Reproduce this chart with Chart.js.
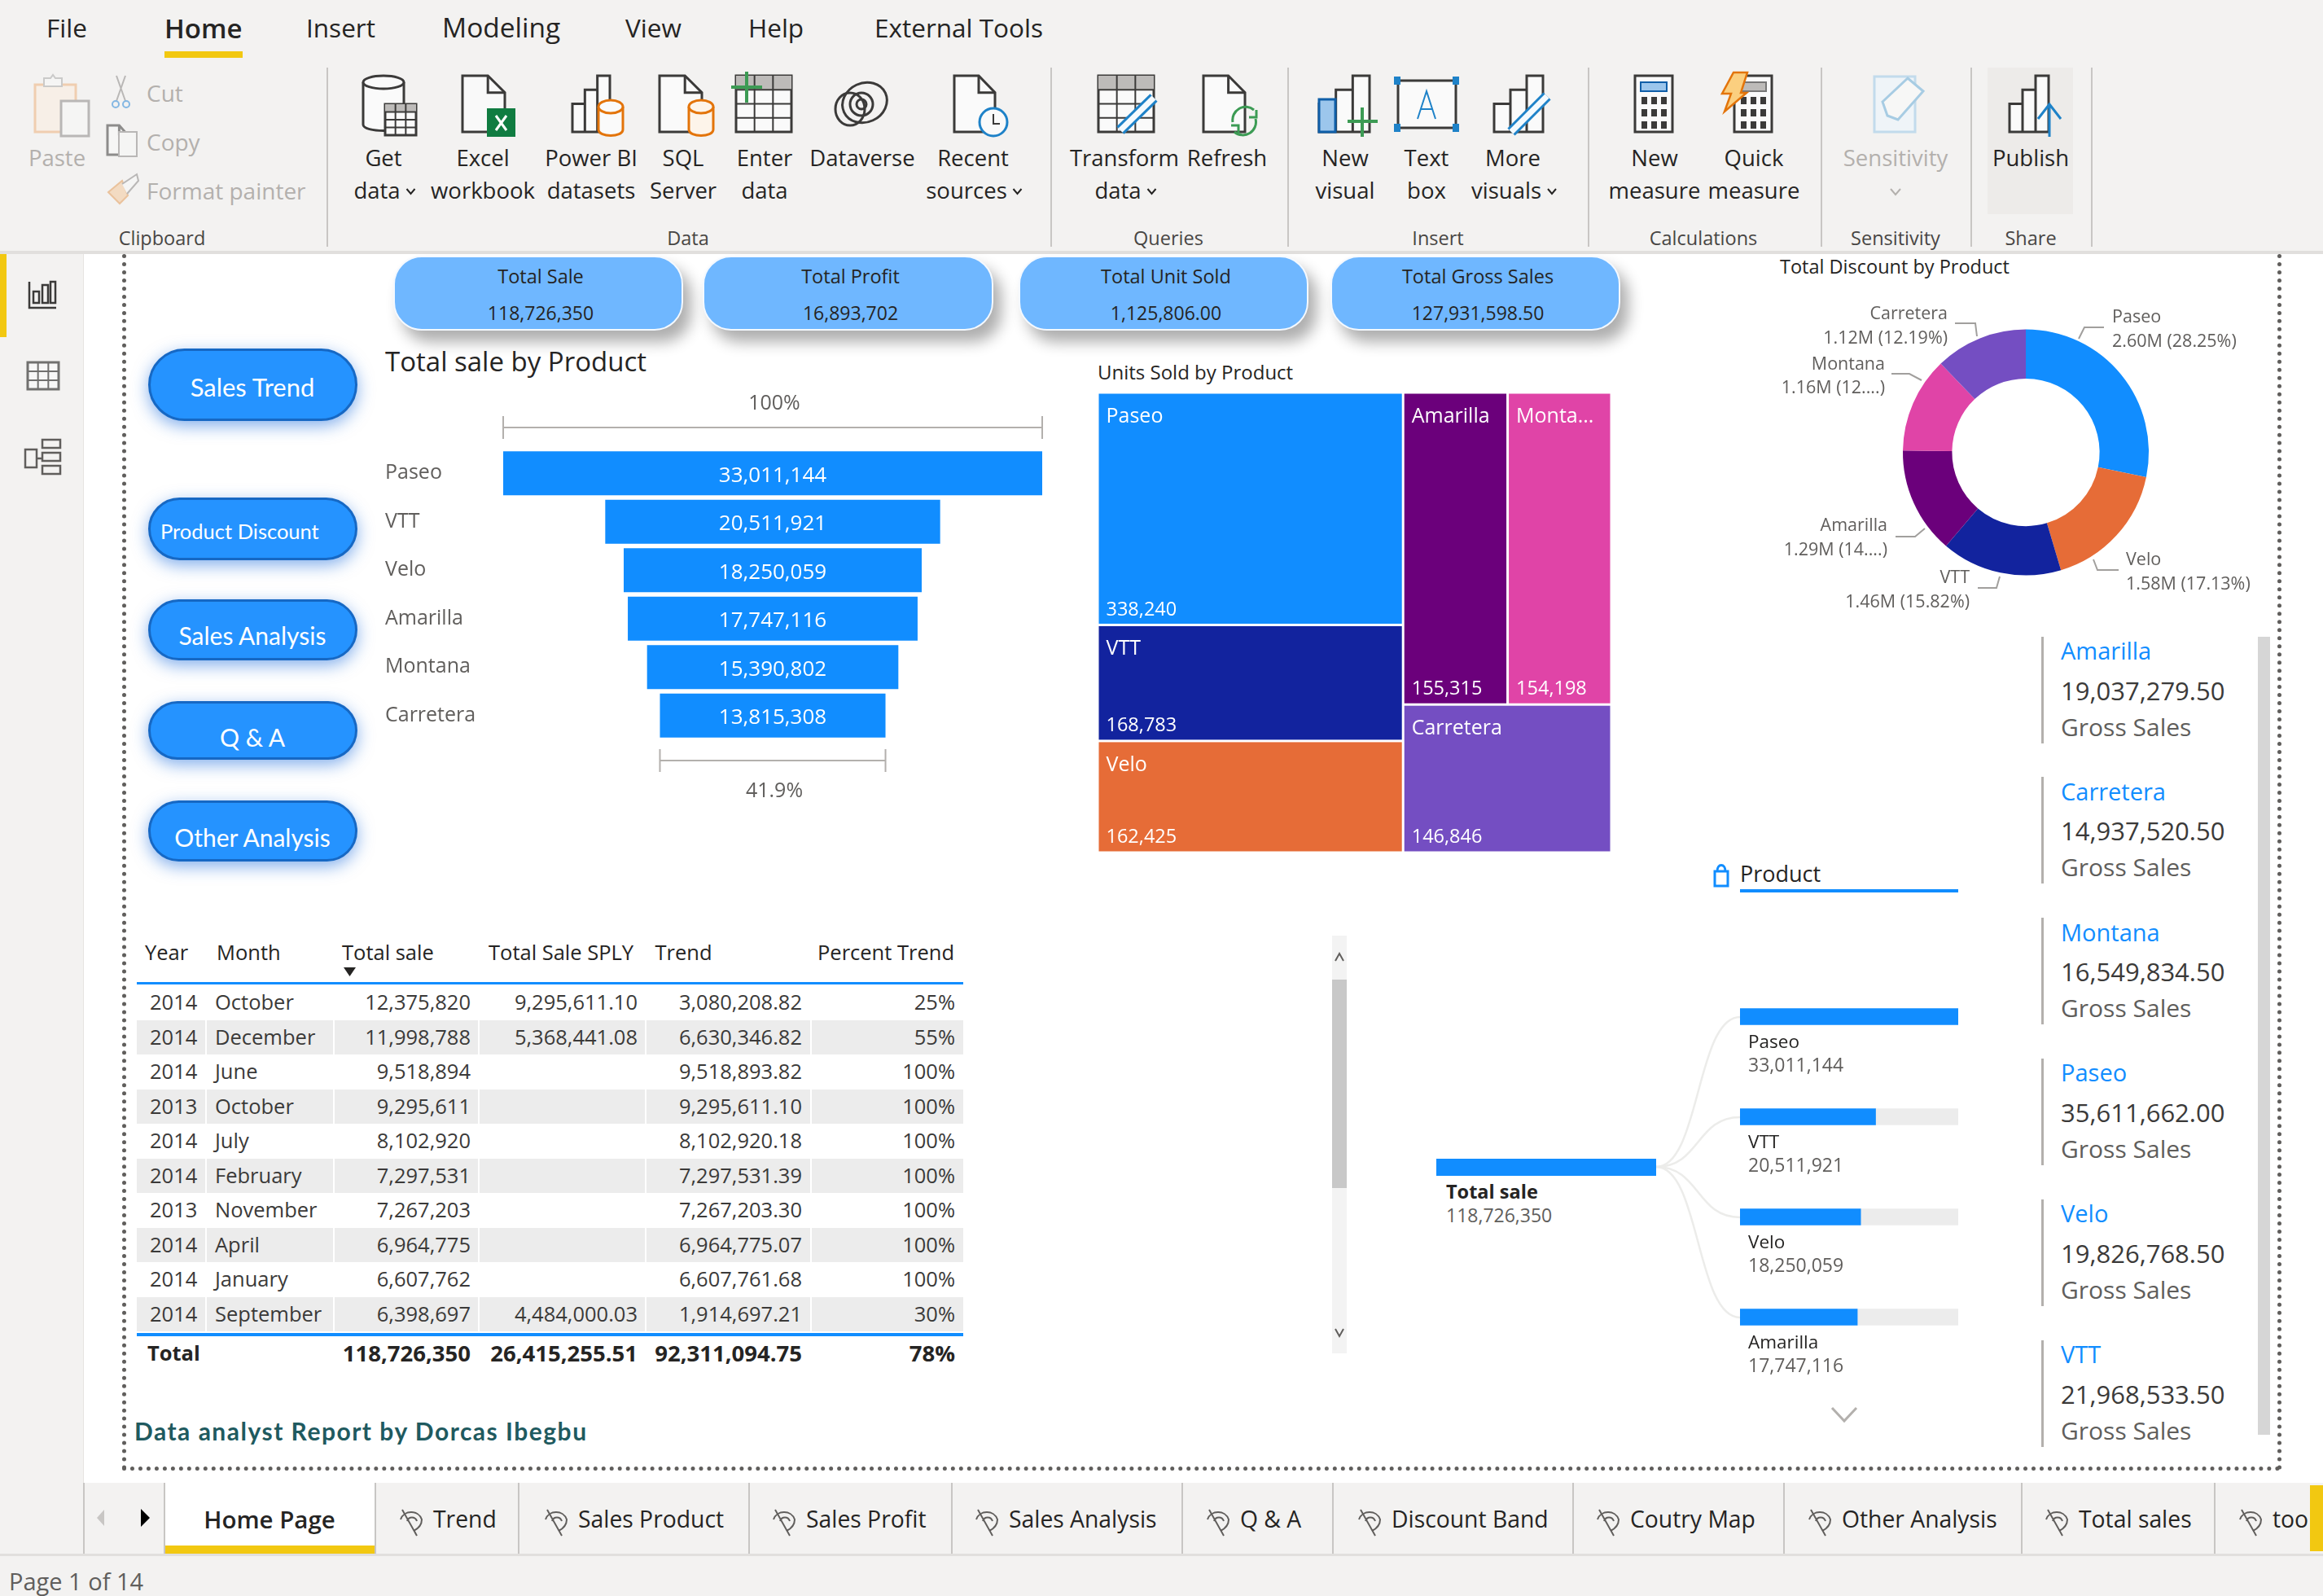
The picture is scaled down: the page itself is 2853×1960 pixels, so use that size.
<!DOCTYPE html>
<html>
<head>
<meta charset="utf-8">
<title>Home Page</title>
<script src="https://cdn.jsdelivr.net/npm/chart.js@4/dist/chart.umd.min.js"></script>
<style>
  html, body { margin: 0; padding: 0; background: #fff; width: 2853px; height: 1960px; overflow: hidden; }
  body { position: relative; font-family: "Open Sans", sans-serif; color: #252423; }
  .abs { position: absolute; }
  .txt { position: absolute; white-space: nowrap; line-height: 1; }
  canvas { position: absolute; display: block; }
  .card { position: absolute; background: #6fb7ff; border: 2px solid #f4f9ff; border-radius: 35px; box-sizing: border-box; box-shadow: 10px 14px 18px rgba(0,0,0,.32); }
  .btn { position: absolute; background: #2593ff; border: 3px solid #1668c4; border-radius: 46px; box-sizing: border-box; box-shadow: 0 6px 20px rgba(30,110,220,.55); }
</style>
</head>
<body>
<svg id="gfx" class="abs" style="left:0;top:0;z-index:1" width="2853" height="1960" viewBox="0 0 2853 1960"></svg>
<script>
// chart data
const products = ['Paseo', 'VTT', 'Velo', 'Amarilla', 'Montana', 'Carretera'];
const totalSales = [33011144, 20511921, 18250059, 17747116, 15390802, 13815308];
const funnelTopLabel = '100%';
const funnelBottomLabel = '41.9%';

const unitProducts = ['Paseo', 'VTT', 'Velo', 'Amarilla', 'Monta...', 'Carretera'];
const unitsSold = [338240, 168783, 162425, 155315, 154198, 146846];

const discountProducts = ['Paseo', 'Velo', 'VTT', 'Amarilla', 'Montana', 'Carretera'];
const discountValues = [2.60, 1.58, 1.46, 1.29, 1.16, 1.12];
const discountLabels = ['2.60M (28.25%)', '1.58M (17.13%)', '1.46M (15.82%)', '1.29M (14....)', '1.16M (12....)', '1.12M (12.19%)'];

const kpiTitles = ['Total Sale', 'Total Profit', 'Total Unit Sold', 'Total Gross Sales'];
const kpiValues = ['118,726,350', '16,893,702', '1,125,806.00', '127,931,598.50'];

const navButtons = ['Sales Trend', 'Product Discount', 'Sales Analysis', 'Q & A', 'Other Analysis'];

const tableHeaders = ['Year', 'Month', 'Total sale', 'Total Sale SPLY', 'Trend', 'Percent Trend'];
const tableYears = ['2014', '2014', '2014', '2013', '2014', '2014', '2013', '2014', '2014', '2014'];
const tableMonths = ['October', 'December', 'June', 'October', 'July', 'February', 'November', 'April', 'January', 'September'];
const tableSales = ['12,375,820', '11,998,788', '9,518,894', '9,295,611', '8,102,920', '7,297,531', '7,267,203', '6,964,775', '6,607,762', '6,398,697'];
const tableSply = ['9,295,611.10', '5,368,441.08', '', '', '', '', '', '', '', '4,484,000.03'];
const tableTrend = ['3,080,208.82', '6,630,346.82', '9,518,893.82', '9,295,611.10', '8,102,920.18', '7,297,531.39', '7,267,203.30', '6,964,775.07', '6,607,761.68', '1,914,697.21'];
const tablePercent = ['25%', '55%', '100%', '100%', '100%', '100%', '100%', '100%', '100%', '30%'];
const tableTotals = ['118,726,350', '26,415,255.51', '92,311,094.75', '78%'];

const grossProducts = ['Amarilla', 'Carretera', 'Montana', 'Paseo', 'Velo', 'VTT'];
const grossSales = ['19,037,279.50', '14,937,520.50', '16,549,834.50', '35,611,662.00', '19,826,768.50', '21,968,533.50'];

const treeProducts = ['Paseo', 'VTT', 'Velo', 'Amarilla'];
const treeValues = [33011144, 20511921, 18250059, 17747116];
const treeTotal = 118726350;

const pageTabs = ['Trend', 'Sales Product', 'Sales Profit', 'Sales Analysis', 'Q & A', 'Discount Band', 'Coutry Map', 'Other Analysis', 'Total sales', 'too'];

const FONT = '"Open Sans", sans-serif';
const HAND = 'Lato, sans-serif';
const BLUE = '#118dff';
const productColors = { Paseo: '#118dff', VTT: '#12239e', Velo: '#e66c37', Amarilla: '#6b007b', Montana: '#e044a7', Carretera: '#744ec2' };

// helpers for the page around the charts
function box(x, y, w, h, color, z) {
  const d = document.createElement('div');
  d.className = 'abs';
  d.style.cssText = `left:${x}px;top:${y}px;width:${w}px;height:${h}px;background:${color};z-index:${z || 0}`;
  document.body.appendChild(d);
  return d;
}

function text(str, x, y, size, color, opts = {}) {
  const d = document.createElement('div');
  d.className = 'txt';
  d.textContent = str;
  const tx = opts.align === 'center' ? '-50%' : opts.align === 'right' ? '-100%' : '0';
  d.style.cssText = `left:${x}px;top:${y}px;font-size:${size}px;color:${color};transform:translate(${tx},-50%);z-index:5;` +
    `font-weight:${opts.weight || 400};font-family:${opts.family || FONT};letter-spacing:${opts.spacing || 0}px`;
  document.body.appendChild(d);
  return d;
}

function makeCanvas(x, y, w, h) {
  const c = document.createElement('canvas');
  c.width = w;
  c.height = h;
  c.style.cssText = `left:${x}px;top:${y}px;width:${w}px;height:${h}px;z-index:3`;
  document.body.appendChild(c);
  return c;
}

// ribbon, side rail and page tabs
box(0, 0, 2853, 308, '#f3f2f1');
box(0, 308, 2853, 4, '#e1dfdd');
box(0, 312, 102, 1596, '#f3f2f1');
box(102, 312, 1, 1509, '#e6e4e2');
box(0, 312, 8, 102, '#f2c811', 2);
box(102, 1821, 2751, 87, '#f3f2f1');
box(0, 1908, 2853, 3, '#e1dfdd');
box(0, 1911, 2853, 49, '#f3f2f1');
box(201, 1821, 260, 87, '#ffffff', 1);
box(203, 1898, 258, 10, '#f2c811', 2);
box(2837, 1824, 16, 81, '#f2c811', 2);
[102, 201, 460, 636, 919, 1168, 1451, 1636, 1931, 2190, 2482, 2719].forEach(x => box(x, 1821, 2, 87, '#c8c6c4', 2));

const menuTabs = [['File', 57], ['Home', 202], ['Insert', 376], ['Modeling', 543], ['View', 768], ['Help', 919], ['External Tools', 1074]];
menuTabs.forEach(([s, x]) => text(s, x, 34, s === 'Home' ? 33 : s === 'Modeling' ? 33.5 : 31.5, '#252423', { weight: s === 'Home' ? 600 : 400 }));
box(202, 63, 96, 8, '#f2c811');

[401, 1290, 1581, 1950, 2236, 2420, 2568].forEach(x => box(x, 83, 2, 220, '#c8c6c4'));
box(2441, 83, 105, 180, '#edebe9');

const groups = [['Clipboard', 199], ['Data', 845], ['Queries', 1435], ['Insert', 1766], ['Calculations', 2092], ['Sensitivity', 2328], ['Share', 2494]];
groups.forEach(([s, x]) => text(s, x, 293, 23.5, '#484644', { align: 'center' }));

const ribbonButtons = [
  ['Get', 'data', 471, 1], ['Excel', 'workbook', 593], ['Power BI', 'datasets', 726], ['SQL', 'Server', 839],
  ['Enter', 'data', 939], ['Dataverse', '', 1059], ['Recent', 'sources', 1195, 1], ['Transform', 'data', 1381, 1],
  ['Refresh', '', 1507], ['New', 'visual', 1652], ['Text', 'box', 1752], ['More', 'visuals', 1858, 1],
  ['New', 'measure', 2032], ['Quick', 'measure', 2154], ['Publish', '', 2494]
];
let chevrons = '';
ribbonButtons.forEach(([a, b, x, chev]) => {
  const cx = chev ? x - 8 : x;
  text(a, x, 193.5, 27.5, '#252423', { align: 'center' });
  if (b) {
    const el = text(b, cx, 234, 27.5, '#252423', { align: 'center' });
    if (chev) chevrons += `<path d="M${cx + el.offsetWidth / 2 + 8} 232l5 6 5-6" fill="none" stroke="#252423" stroke-width="2"/>`;
  }
});
chevrons += '<path d="M2322 232l6 7 6-7" fill="none" stroke="#b3b0ad" stroke-width="2"/>';
text('Paste', 70, 193.5, 27.5, '#b3b0ad', { align: 'center' });
text('Sensitivity', 2328, 193.5, 27.5, '#b3b0ad', { align: 'center' });
text('Cut', 180, 114, 28, '#b3b0ad');
text('Copy', 180, 174, 28, '#b3b0ad');
text('Format painter', 180, 234, 28, '#b3b0ad');

text('Home Page', 331, 1866, 29.5, '#252423', { align: 'center', weight: 600 });
const tabLefts = [532, 710, 990, 1239, 1523, 1709, 2002, 2262, 2553, 2791];
pageTabs.forEach((s, i) => text(s, tabLefts[i], 1865, 28.3, '#252423'));
text('Page 1 of 14', 11, 1941, 29, '#605e5c');

// icon sketches, drawn in page pixels
function doc(x, y, w, h, fill) {
  return `<path d="M${x} ${y + h}V${y}H${x + w * .6}L${x + w} ${y + h * .3}V${y + h}Z" fill="${fill || '#fafafa'}" stroke="#3b3a39" stroke-width="3"/>` +
    `<path d="M${x + w * .6} ${y}V${y + h * .3}H${x + w}" fill="none" stroke="#3b3a39" stroke-width="3"/>`;
}
function cyl(x, y, w, h, color, fill) {
  return `<path d="M${x} ${y + 8}V${y + h - 8}C${x} ${y + h + 2} ${x + w} ${y + h + 2} ${x + w} ${y + h - 8}V${y + 8}" fill="${fill || '#fafafa'}" stroke="${color}" stroke-width="3"/>` +
    `<ellipse cx="${x + w / 2}" cy="${y + 8}" rx="${w / 2}" ry="8" fill="${fill || '#fafafa'}" stroke="${color}" stroke-width="3"/>`;
}
function grid(x, y, w, h, cols, rows, head) {
  let s = `<rect x="${x}" y="${y}" width="${w}" height="${h}" fill="#fafafa" stroke="#3b3a39" stroke-width="3"/>`;
  if (head) s += `<rect x="${x}" y="${y}" width="${w}" height="${h / rows}" fill="#bdbbb9"/>`;
  for (let i = 1; i < cols; i++) s += `<path d="M${x + w * i / cols} ${y}V${y + h}" stroke="#3b3a39" stroke-width="2"/>`;
  for (let i = 1; i < rows; i++) s += `<path d="M${x} ${y + h * i / rows}H${x + w}" stroke="#3b3a39" stroke-width="2"/>`;
  return s;
}
function bars(x, y, w, h, stroke, fill) {
  const u = w / 3;
  return `<path d="M${x} ${y + h}V${y + h * .5}H${x + u}V${y + h}ZM${x + u} ${y + h}V${y + h * .25}H${x + 2 * u}V${y + h}ZM${x + 2 * u} ${y + h}V${y}H${x + w}V${y + h}Z" fill="${fill || '#fafafa'}" stroke="${stroke || '#3b3a39'}" stroke-width="3"/>`;
}
function pencil(x1, y1, x2, y2) {
  return `<path d="M${x1} ${y1}L${x2} ${y2}" stroke="#1e82c8" stroke-width="13"/><path d="M${x1} ${y1}L${x2} ${y2}" stroke="#f4fafe" stroke-width="7"/>`;
}
function calc(x, y, w, h, top) {
  let s = `<rect x="${x}" y="${y}" width="${w}" height="${h}" fill="#fafafa" stroke="#3b3a39" stroke-width="3"/>`;
  s += `<rect x="${x + 7}" y="${y + 8}" width="${w - 14}" height="11" fill="${top}" stroke="${top === '#9cc6ec' ? '#0f5ea8' : '#777'}" stroke-width="2"/>`;
  for (let r = 0; r < 3; r++) for (let c = 0; c < 3; c++) s += `<rect x="${x + 8 + c * 12}" y="${y + 26 + r * 15}" width="7" height="9" fill="#3b3a39"/>`;
  return s;
}
function hiddenIcon(x, y) {
  return `<g fill="none" stroke="#605e5c" stroke-width="2"><path d="M${x} ${y}C${x + 4} ${y - 12} ${x + 22} ${y - 12} ${x + 26} ${y}C${x + 26} ${y + 8} ${x + 20} ${y + 12} ${x + 16} ${y + 14}"/><path d="M${x + 8} ${y + 2}C${x + 10} ${y - 4} ${x + 18} ${y - 4} ${x + 20} ${y + 2}"/><path d="M${x + 2} ${y - 12}L${x + 20} ${y + 20}"/></g>`;
}

let icons = chevrons;
// clipboard group (greyed out)
icons += `<g opacity=".55"><rect x="43" y="104" width="50" height="58" fill="#fbeee0" stroke="#eeb27c" stroke-width="3"/><path d="M54 104V96h8l3-4 3 4h8v10H54z" fill="#f8f8f8" stroke="#aaa" stroke-width="2"/><rect x="75" y="124" width="34" height="43" fill="#f8f8f8" stroke="#8a8886" stroke-width="3"/>` +
  `<path d="M154 93L143 124M143 93L154 124" stroke="#8a8886" stroke-width="2"/><circle cx="142" cy="128" r="4" fill="none" stroke="#2b88d8" stroke-width="2"/><circle cx="155" cy="128" r="4" fill="none" stroke="#2b88d8" stroke-width="2"/>` +
  doc(132, 154, 24, 36) + `<rect x="146" y="162" width="22" height="30" fill="#f8f8f8" stroke="#8a8886" stroke-width="2"/>` +
  `<path d="M133 236L150 222L157 240L147 250Z" fill="#f3c99d" stroke="#e39c57" stroke-width="2"/><path d="M150 226L168 214L170 222L156 238" fill="#f8f8f8" stroke="#8a8886" stroke-width="2"/></g>`;
// data group
icons += cyl(446, 93, 50, 68, '#3b3a39') + grid(473, 128, 38, 38, 3, 4, true);
icons += doc(568, 93, 52, 69, '#f9f9f9') + '<rect x="598" y="133" width="35" height="35" fill="#107c41"/><path d="M609 142L622 160M622 142L609 160" stroke="#fff" stroke-width="3"/>';
icons += bars(703, 93, 46, 69) + cyl(735, 123, 30, 44, '#e3740a');
icons += doc(810, 93, 52, 69) + cyl(846, 123, 30, 44, '#e3740a', '#fdf4ea');
icons += grid(904, 93, 68, 69, 3, 4, true) + '<path d="M917 88V126M898 107H936" stroke="#3c9b54" stroke-width="4"/>';
icons += '<g fill="none" stroke="#3b3a39" stroke-width="3"><ellipse cx="1044" cy="134" rx="18" ry="20"/><ellipse cx="1062" cy="126" rx="28" ry="24" transform="rotate(-25 1062 126)"/><ellipse cx="1058" cy="128" rx="14" ry="14"/><circle cx="1058" cy="128" r="6"/></g>';
icons += doc(1172, 93, 50, 69) + '<circle cx="1220" cy="150" r="17" fill="#fafafa" stroke="#1e82c8" stroke-width="3"/><path d="M1220 140V152H1228" fill="none" stroke="#3b3a39" stroke-width="2"/>';
// queries group
icons += grid(1349, 93, 68, 69, 3, 4, true) + pencil(1417, 120, 1376, 160);
icons += doc(1478, 93, 51, 69) + '<g fill="none" stroke="#3c9b54" stroke-width="3"><path d="M1514 150A16 16 0 0 1 1540 135M1542 146A16 16 0 0 1 1516 162"/><path d="M1534 144H1543V135M1512 154H1521V163"/></g>';
// insert group
icons += bars(1620, 93, 62, 69, '#3b3a39') + '<rect x="1620" y="122" width="20" height="40" fill="#9cc6ec" stroke="#0f5ea8" stroke-width="3"/><path d="M1673 132V168M1655 149H1692" stroke="#3c9b54" stroke-width="4"/>';
icons += '<rect x="1717" y="99" width="71" height="58" fill="#fafafa" stroke="#3b3a39" stroke-width="3"/>';
[[1716, 99], [1788, 99], [1716, 157], [1788, 157]].forEach(([x, y]) => { icons += `<rect x="${x - 4}" y="${y - 5}" width="8" height="10" fill="#1e82c8"/>`; });
icons += '<path d="M1741 146L1752 112L1763 146M1745 134H1759" fill="none" stroke="#1e82c8" stroke-width="2"/>';
icons += bars(1835, 93, 60, 69) + pencil(1900, 118, 1856, 162);
// calculations
icons += calc(2008, 93, 46, 69, '#9cc6ec') + calc(2130, 93, 46, 69, '#bdbbb9');
icons += '<path d="M2129 89H2146L2138 114H2145L2118 137L2126 115H2115Z" fill="#fbcf7f" stroke="#e3740a" stroke-width="2.5"/>';
// sensitivity
icons += '<g opacity=".65"><rect x="2302" y="94" width="50" height="68" fill="#eef6fc" stroke="#a9d0ea" stroke-width="3"/><path d="M2312 125L2343 96L2362 112L2331 147L2318 142Z" fill="#fafafa" stroke="#7fb8dd" stroke-width="3"/></g>';
// publish
icons += bars(2468, 93, 48, 69) + '<path d="M2517 168V130M2503 146L2517 128L2531 146" fill="none" stroke="#1e82c8" stroke-width="3"/>';
// side rail
icons += '<path d="M36 346V378H69M41 372V358H48V372ZM52 372V350H59V372ZM62 372V346H68V372Z" fill="none" stroke="#3b3a39" stroke-width="2.5"/>';
icons += '<g opacity=".7">' + grid(34, 445, 38, 33, 3, 3) + '</g>';
icons += '<g fill="none" stroke="#605e5c" stroke-width="2.5"><rect x="31" y="552" width="14" height="22"/><rect x="52" y="540" width="22" height="10"/><rect x="52" y="556" width="22" height="10"/><rect x="52" y="572" width="22" height="10"/><path d="M45 563H52"/></g>';
// tab bar arrows and hidden page marks
icons += '<path d="M128 1854V1874L119 1864Z" fill="#c8c6c4"/><path d="M173 1853V1875L184 1864Z" fill="#000"/>';
tabLefts.forEach(x => { icons += hiddenIcon(x - 40, 1866); });
// slicer lock and tree connectors
icons += `<path d="M2106 1070H2122V1088H2106ZM2109 1070C2109 1060 2119 1060 2119 1070" fill="none" stroke="${BLUE}" stroke-width="3"/>`;
[1249, 1372, 1495, 1618].forEach(y => {
  icons += `<path d="M2034 1433C2088 1433 2083 ${y} 2137 ${y}" fill="none" stroke="#ececea" stroke-width="2.5"/>`;
});
icons += '<path d="M2250 1729L2265 1745L2280 1729" fill="none" stroke="#b3b0ad" stroke-width="3"/>';
icons += '<path d="M1640 1180L1645 1171L1650 1180M1640 1632L1645 1641L1650 1632" fill="none" stroke="#605e5c" stroke-width="2"/>';
document.getElementById('gfx').innerHTML = icons;

// dotted report frame
const frame = document.createElement('div');
frame.className = 'abs';
frame.style.cssText = 'left:150px;top:312px;width:2642px;height:1489px;border:solid #605e5c;border-width:0 5px 5px 5px;border-style:none dotted dotted dotted;z-index:1';
document.body.appendChild(frame);

// KPI cards
[[483, 356], [863, 357], [1251, 356], [1634, 356]].forEach(([x, w], i) => {
  const c = document.createElement('div');
  c.className = 'card';
  c.style.cssText = `left:${x}px;top:314px;width:${w}px;height:92px;z-index:2`;
  document.body.appendChild(c);
  text(kpiTitles[i], x + w / 2 + 3, 340, 23.5, '#252423', { align: 'center' });
  text(kpiValues[i], x + w / 2 + 3, 384, 23, '#252423', { align: 'center' });
});

// navigation buttons
[[428, 89, 31, 475], [611, 77, 25.5, 653], [736, 75, 30, 780], [861, 72, 30, 905], [983, 75, 30, 1028]].forEach(([y, h, size, ty], i) => {
  const b = document.createElement('div');
  b.className = 'btn';
  b.style.cssText = `left:182px;top:${y}px;width:257px;height:${h}px;z-index:2`;
  document.body.appendChild(b);
  text(navButtons[i], i === 1 ? 197 : 310, ty, size, '#ffffff', { align: i === 1 ? 'left' : 'center', family: HAND });
});

// titles
text('Total sale by Product', 473, 443, 33, '#252423');
text('Units Sold by Product', 1348, 457, 24, '#252423');
text('Total Discount by Product', 2186, 328, 23.5, '#252423');

// funnel
const funnelPlugin = {
  id: 'funnelMarks',
  afterDatasetsDraw(chart) {
    const { ctx, scales: { x } } = chart;
    const meta = chart.getDatasetMeta(0);
    ctx.save();
    ctx.textAlign = 'center';
    ctx.textBaseline = 'middle';
    ctx.font = `26px ${FONT}`;
    ctx.fillStyle = '#ffffff';
    totalSales.forEach((v, i) => ctx.fillText(v.toLocaleString('en-US'), x.getPixelForValue(0), meta.data[i].y + 3));

    const bracket = (v, y, label, labelY) => {
      const a = x.getPixelForValue(-v / 2), b = x.getPixelForValue(v / 2);
      ctx.strokeStyle = '#b3b0ad';
      ctx.lineWidth = 2;
      ctx.beginPath();
      ctx.moveTo(a, y - 14); ctx.lineTo(a, y + 14);
      ctx.moveTo(a, y); ctx.lineTo(b, y);
      ctx.moveTo(b, y - 14); ctx.lineTo(b, y + 14);
      ctx.stroke();
      ctx.font = `25px ${FONT}`;
      ctx.fillStyle = '#605e5c';
      ctx.fillText(label, x.getPixelForValue(0) + 2, labelY);
    };
    bracket(totalSales[0], 525 - 480, funnelTopLabel, 496 - 480);
    bracket(totalSales[totalSales.length - 1], 934 - 480, funnelBottomLabel, 972 - 480);
    ctx.restore();
  }
};
new Chart(makeCanvas(473, 480, 819, 510), {
  type: 'bar',
  data: {
    labels: products,
    datasets: [{
      data: totalSales.map(v => [-v / 2, v / 2]),
      backgroundColor: BLUE,
      barPercentage: 0.907,
      categoryPercentage: 1
    }]
  },
  options: {
    indexAxis: 'y',
    responsive: false,
    animation: false,
    events: [],
    layout: { padding: { top: 71.5, bottom: 81.5, left: 0, right: 12 } },
    plugins: { legend: { display: false }, tooltip: { enabled: false } },
    scales: {
      x: { display: false, min: -totalSales[0] / 2, max: totalSales[0] / 2 },
      y: {
        afterFit(s) { s.width = 145; },
        grid: { display: false },
        border: { display: false },
        ticks: { autoSkip: false, crossAlign: 'far', color: '#605e5c', padding: 0, font: { size: 25, family: FONT } }
      }
    }
  },
  plugins: [funnelPlugin]
});

// treemap: cell shares come from the values, pixels from the chart scales
const sum = arr => arr.reduce((a, b) => a + b, 0);
function treemapCells() {
  const leftSum = sum(unitsSold.slice(0, 3));
  const rightSum = sum(unitsSold.slice(3));
  const topRight = unitsSold[3] + unitsSold[4];
  const total = leftSum + rightSum;
  const cells = [];
  let y = 0;
  for (let i = 0; i < 3; i++) {
    cells.push({ i, x0: 0, x1: leftSum, y0: y, y1: y + unitsSold[i] / leftSum });
    y += unitsSold[i] / leftSum;
  }
  const split = leftSum + rightSum * unitsSold[3] / topRight;
  cells.push({ i: 3, x0: leftSum, x1: split, y0: 0, y1: topRight / rightSum });
  cells.push({ i: 4, x0: split, x1: total, y0: 0, y1: topRight / rightSum });
  cells.push({ i: 5, x0: leftSum, x1: total, y0: topRight / rightSum, y1: 1 });
  return cells;
}
const treemapPlugin = {
  id: 'treemapCells',
  afterDatasetsDraw(chart) {
    const { ctx, scales: { x, y } } = chart;
    ctx.save();
    ctx.textBaseline = 'middle';
    treemapCells().forEach(c => {
      const l = x.getPixelForValue(c.x0) + 1.5, r = x.getPixelForValue(c.x1) - 1.5;
      const t = y.getPixelForValue(c.y0) + 1.5, b = y.getPixelForValue(c.y1) - 1.5;
      ctx.fillStyle = productColors[products[c.i]];
      ctx.fillRect(l, t, r - l, b - t);
      ctx.fillStyle = '#ffffff';
      ctx.font = `25px ${FONT}`;
      ctx.fillText(unitProducts[c.i], l + 9, t + 28);
      ctx.font = `23.5px ${FONT}`;
      ctx.fillText(unitsSold[c.i].toLocaleString('en-US'), l + 9, b - 17);
    });
    ctx.restore();
  }
};
new Chart(makeCanvas(1348, 482, 631, 565), {
  type: 'scatter',
  data: { datasets: [{ data: [], label: 'Units Sold' }] },
  options: {
    responsive: false,
    animation: false,
    events: [],
    layout: { padding: 0 },
    plugins: { legend: { display: false }, tooltip: { enabled: false } },
    scales: {
      x: { display: false, min: 0, max: sum(unitsSold) },
      y: { display: false, min: 0, max: 1, reverse: true }
    }
  },
  plugins: [treemapPlugin]
});

// doughnut with leader lines
const DONUT_LEFT = 2168, DONUT_TOP = 355;
const donutCallouts = [
  { side: 'l', tx: 2594, ty: 390, ty2: 420, pts: [[2584, 402], [2560, 402], [2553, 416]] },
  { side: 'l', tx: 2611, ty: 688, ty2: 718, pts: [[2602, 700], [2576, 700], [2571, 687]] },
  { side: 'r', tx: 2419, ty: 710, ty2: 740, pts: [[2429, 722], [2452, 722], [2456, 708]] },
  { side: 'r', tx: 2318, ty: 646, ty2: 676, pts: [[2328, 659], [2352, 659], [2364, 649]] },
  { side: 'r', tx: 2315, ty: 448, ty2: 477, pts: [[2323, 459], [2345, 459], [2360, 467]] },
  { side: 'r', tx: 2392, ty: 386, ty2: 416, pts: [[2401, 397], [2426, 397], [2428, 413]] }
];
const calloutPlugin = {
  id: 'donutCallouts',
  afterDatasetsDraw(chart) {
    const { ctx } = chart;
    ctx.save();
    ctx.textBaseline = 'middle';
    ctx.fillStyle = '#605e5c';
    ctx.font = `21.5px ${FONT}`;
    ctx.strokeStyle = '#a19f9d';
    ctx.lineWidth = 2;
    donutCallouts.forEach((c, i) => {
      ctx.textAlign = c.side === 'l' ? 'left' : 'right';
      ctx.fillText(discountProducts[i], c.tx - DONUT_LEFT, c.ty - DONUT_TOP);
      ctx.fillText(discountLabels[i], c.tx - DONUT_LEFT, c.ty2 - DONUT_TOP);
      ctx.beginPath();
      c.pts.forEach(([px, py], j) => {
        if (j === 0) ctx.moveTo(px - DONUT_LEFT, py - DONUT_TOP);
        else ctx.lineTo(px - DONUT_LEFT, py - DONUT_TOP);
      });
      ctx.stroke();
    });
    ctx.restore();
  }
};
new Chart(makeCanvas(DONUT_LEFT, DONUT_TOP, 640, 401), {
  type: 'doughnut',
  data: {
    labels: discountProducts,
    datasets: [{
      data: discountValues,
      backgroundColor: discountProducts.map(p => productColors[p]),
      borderWidth: 0
    }]
  },
  options: {
    radius: 151,
    cutout: '60%',
    responsive: false,
    animation: false,
    events: [],
    layout: { padding: 0 },
    plugins: { legend: { display: false }, tooltip: { enabled: false } }
  },
  plugins: [calloutPlugin]
});

// matrix table
const ROW0 = 1231, ROWH = 42.55;
const colEdges = [167.5, 253, 410, 588, 793, 996, 1183];
tableHeaders.forEach((s, i) => {
  const xs = [178, 266, 420, 600, 804.5, 1172];
  text(s, xs[i], 1170, 25.5, '#252423', { align: i === 5 ? 'right' : 'left' });
});
document.getElementById('gfx').insertAdjacentHTML('beforeend', '<path d="M422 1188H437L429.5 1199Z" fill="#252423"/>');
box(167.5, 1206, 1015.5, 3, BLUE, 2);
box(167.5, 1637, 1015.5, 4, BLUE, 2);
tableYears.forEach((y, r) => {
  const cy = ROW0 + r * ROWH;
  if (r % 2 === 1) {
    box(167.5, cy - 21, 1015.5, 42, '#ececec', 1);
    colEdges.slice(1, 6).forEach(x => box(x - 1, cy - 21, 2, 42, '#ffffff', 1));
  }
  text(y, 184, cy, 25.5, '#3b3a39');
  text(tableMonths[r], 264, cy, 25.5, '#3b3a39');
  text(tableSales[r], 578, cy, 25.5, '#3b3a39', { align: 'right' });
  if (tableSply[r]) text(tableSply[r], 783, cy, 25.5, '#3b3a39', { align: 'right' });
  text(tableTrend[r], 985, cy, 25.5, '#3b3a39', { align: 'right' });
  text(tablePercent[r], 1173, cy, 25.5, '#3b3a39', { align: 'right' });
});
text('Total', 181, 1662, 25.5, '#252423', { weight: 700 });
[578, 783, 985, 1173].forEach((x, i) => text(tableTotals[i], x, 1662, 27.5, '#252423', { align: 'right', weight: 700 }));

text('Data analyst Report by Dorcas Ibegbu', 165, 1757, 30, '#1f5a5f', { family: HAND, weight: 700, spacing: 1.5 });

// tree scrollbar
box(1636, 1149, 18, 513, '#f3f3f3', 0);
box(1636, 1203, 18, 256, '#c8c8c8', 0);

// slicer title
text('Product', 2137, 1072, 27, '#252423');
box(2137, 1092, 268, 4, BLUE, 2);

// multi-row card
grossProducts.forEach((p, i) => {
  const top = 781.5 + i * 172.8;
  box(2507, top, 3, 131, '#b3b0ad', 2);
  text(p, 2531, top + 16.5, 29, BLUE);
  text(grossSales[i], 2531, top + 66, 31, '#3b3a39');
  text('Gross Sales', 2531, top + 111, 30, '#605e5c');
});
box(2773, 782, 15, 980, '#d6d6d6', 0);

// decomposition tree
new Chart(makeCanvas(1764, 1423, 270, 21), {
  type: 'bar',
  data: { labels: ['Total sale'], datasets: [{ data: [treeTotal], backgroundColor: BLUE, barPercentage: 1, categoryPercentage: 1 }] },
  options: {
    indexAxis: 'y',
    responsive: false,
    animation: false,
    events: [],
    layout: { padding: 0 },
    plugins: { legend: { display: false }, tooltip: { enabled: false } },
    scales: { x: { display: false, min: 0, max: treeTotal }, y: { display: false } }
  }
});
text('Total sale', 1776, 1464, 23.5, '#252423', { weight: 700 });
text(treeTotal.toLocaleString('en-US'), 1776, 1492, 23, '#605e5c');

const treeLabelPlugin = {
  id: 'treeLabels',
  afterDatasetsDraw(chart) {
    const { ctx } = chart;
    const meta = chart.getDatasetMeta(0);
    ctx.save();
    ctx.textBaseline = 'middle';
    treeProducts.forEach((p, i) => {
      const cy = meta.data[i].y;
      ctx.font = `22.5px ${FONT}`;
      ctx.fillStyle = '#252423';
      ctx.fillText(p, 10, cy + 32);
      ctx.font = `23px ${FONT}`;
      ctx.fillStyle = '#605e5c';
      ctx.fillText(treeValues[i].toLocaleString('en-US'), 10, cy + 61);
    });
    ctx.restore();
  }
};
new Chart(makeCanvas(2137, 1187, 268, 512), {
  type: 'bar',
  data: {
    labels: treeProducts,
    datasets: [
      { data: treeValues, backgroundColor: BLUE, barThickness: 20 },
      { data: treeValues.map(v => treeValues[0] - v), backgroundColor: '#ececec', barThickness: 20 }
    ]
  },
  options: {
    indexAxis: 'y',
    responsive: false,
    animation: false,
    events: [],
    layout: { padding: { top: 0, bottom: 20, left: 0, right: 0 } },
    plugins: { legend: { display: false }, tooltip: { enabled: false } },
    scales: {
      x: { display: false, stacked: true, min: 0, max: treeValues[0] },
      y: { display: false, stacked: true }
    }
  },
  plugins: [treeLabelPlugin]
});
</script>
</body>
</html>
